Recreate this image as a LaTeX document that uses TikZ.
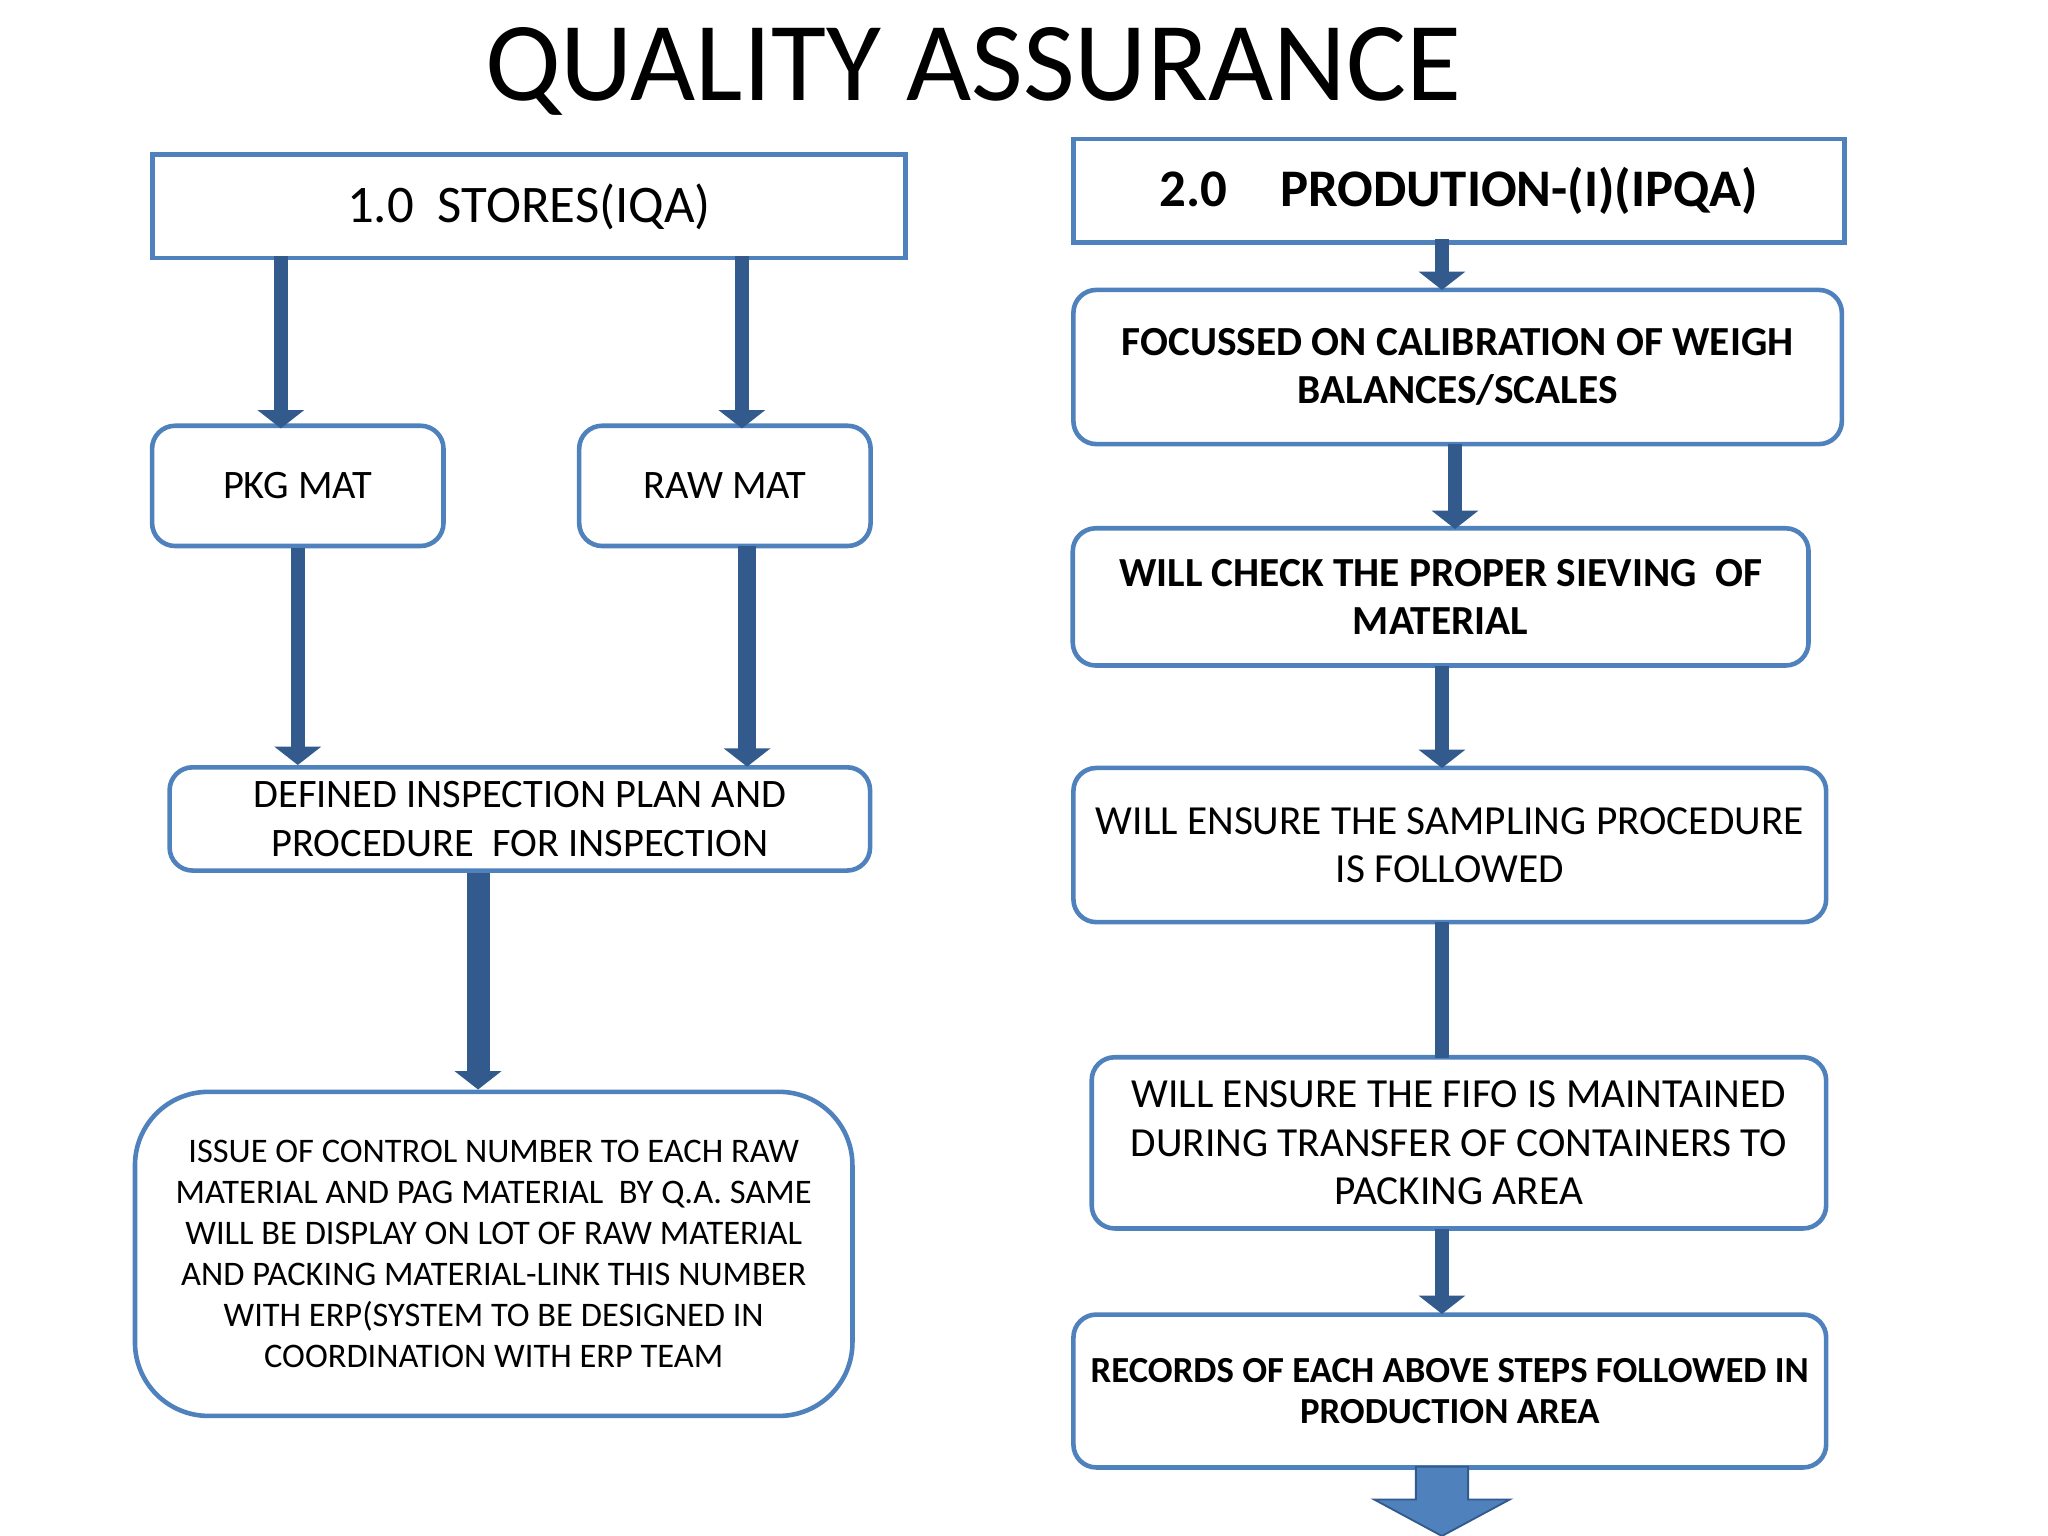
\documentclass[tikz,border=0pt]{standalone}
\usepackage{fontspec}
\setmainfont{Carlito}
\usetikzlibrary{arrows.meta}
\definecolor{bb}{RGB}{79,129,189}
\definecolor{bd}{RGB}{50,90,140}
\begin{document}
\begin{tikzpicture}[x=0.01cm,y=-0.01cm,
 box/.style={draw=bb,line width=1pt,fill=white,align=center,inner sep=0pt},
 rbox/.style={box,rounded corners=5pt},
 arr/.style={draw=bd,line width=#1,-{Triangle[length=4pt,width=10pt]}},
 arr/.default=3pt]
\useasboundingbox (0,0) rectangle (1568,1176);
\node[font=\fontsize{24.5}{28}\selectfont] (t) at (745,55) {QUALITY ASSURANCE};
\node[box,minimum width=5.76cm,minimum height=0.79cm,font=\fontsize{11.5}{13}\selectfont] (s) at (405,158) {1.0\ \ STORES(IQA)};
\node[box,minimum width=5.9cm,minimum height=0.79cm,font=\fontsize{11.5}{13}\selectfont\bfseries] (p) at (1117,146) {2.0\quad PRODUTION-(I)(IPQA)};
\node[rbox,minimum width=2.23cm,minimum height=0.92cm,font=\fontsize{8.8}{10}\selectfont] (pkg) at (228,372) {PKG MAT};
\node[rbox,minimum width=2.23cm,minimum height=0.92cm,font=\fontsize{8.8}{10}\selectfont] (raw) at (555,372) {RAW MAT};
\node[rbox,minimum width=5.36cm,minimum height=0.79cm,font=\fontsize{8.8}{10.5}\selectfont] (def) at (398,627) {DEFINED INSPECTION PLAN AND\\PROCEDURE\ \ FOR INSPECTION};
\node[box,rounded corners=16pt,minimum width=5.49cm,minimum height=2.48cm,font=\fontsize{7.5}{8.9}\selectfont] (iss) at (378,960) {ISSUE OF CONTROL NUMBER TO EACH RAW\\MATERIAL AND PAG MATERIAL\ \ BY Q.A. SAME\\WILL BE DISPLAY ON LOT OF RAW MATERIAL\\AND PACKING MATERIAL-LINK THIS NUMBER\\WITH ERP(SYSTEM TO BE DESIGNED IN\\COORDINATION WITH ERP TEAM};
\node[rbox,minimum width=5.88cm,minimum height=1.18cm,font=\fontsize{9}{10.5}\selectfont\bfseries] (f) at (1116,281) {FOCUSSED ON CALIBRATION OF WEIGH\\BALANCES/SCALES};
\node[rbox,minimum width=5.63cm,minimum height=1.05cm,font=\fontsize{9}{10.5}\selectfont\bfseries] (c) at (1103,457) {WILL CHECK THE PROPER SIEVING\ \ OF\\MATERIAL};
\node[rbox,minimum width=5.76cm,minimum height=1.18cm,font=\fontsize{9}{10.5}\selectfont] (sp) at (1110,647) {WILL ENSURE THE SAMPLING PROCEDURE\\IS FOLLOWED};
\node[rbox,minimum width=5.62cm,minimum height=1.31cm,font=\fontsize{9}{10.5}\selectfont] (fi) at (1117,875) {WILL ENSURE THE FIFO IS MAINTAINED\\DURING TRANSFER OF CONTAINERS TO\\PACKING AREA};
\node[rbox,minimum width=5.76cm,minimum height=1.17cm,font=\fontsize{8}{9}\selectfont\bfseries] (r) at (1110,1065) {RECORDS OF EACH ABOVE STEPS FOLLOWED IN\\PRODUCTION AREA};
\coordinate (end) at (1104,1176);
\draw[arr] (215,196) -- (215,328);
\draw[arr] (568,196) -- (568,328);
\draw[arr] (pkg.south) -- (pkg.south |- def.north);
\draw[arr=4pt] (572,418) -- (572,587);
\draw[arr=5pt] (def.south -| 366,0) -- (iss.north -| 366,0);
\draw[arr] (1104,183) -- (1104,222);
\draw[arr] (1114,340) -- (1114,405);
\draw[arr] (1104,510) -- (1104,588);
\draw[draw=bd,line width=3pt] (1104,706) -- (1104,810);
\draw[arr] (1104,941) -- (1104,1006);
\fill[bb,draw=bd] (1084,1123) -- (1124,1123) -- (1124,1148) -- (1156,1148) -- (end) -- (1052,1148) -- (1084,1148) -- cycle;
\end{tikzpicture}
\end{document}
